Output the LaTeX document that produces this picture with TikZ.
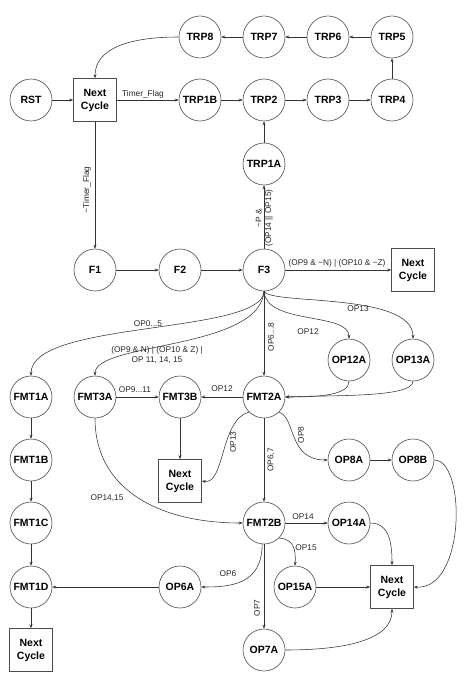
\documentclass[tikz,border=0pt]{standalone}
\usepackage{fontspec}
\setmainfont{Liberation Sans}
\usetikzlibrary{arrows.meta}
\begin{document}
\begin{tikzpicture}[x=1pt,y=-1pt,
 st/.style={circle,draw=black!70,line width=0.6pt,minimum size=42pt,inner sep=0pt,font=\fontsize{10.5}{11}\selectfont\bfseries},
 nc/.style={rectangle,draw=black!70,line width=0.6pt,minimum size=43pt,inner sep=0pt,align=center,font=\fontsize{10.5}{13}\selectfont\bfseries},
 ar/.style={draw=black!80,line width=0.55pt,-{Stealth[length=4pt,width=3pt]}},
 lb/.style={font=\fontsize{8.3}{9.5}\selectfont,text=black!85,inner sep=1pt,align=center},
]
\useasboundingbox (0,0) rectangle (474,679);
% nodes
\node[st] (TRP8) at (200,37) {TRP8};
\node[st] (TRP7) at (264,37) {TRP7};
\node[st] (TRP6) at (328,37) {TRP6};
\node[st] (TRP5) at (392,37) {TRP5};
\node[st] (RST) at (31,100) {RST};
\node[nc] (NC1) at (95,100) {Next\\Cycle};
\node[st] (TRP1B) at (200,100) {TRP1B};
\node[st] (TRP2) at (264,100) {TRP2};
\node[st] (TRP3) at (328,100) {TRP3};
\node[st] (TRP4) at (392,100) {TRP4};
\node[st] (TRP1A) at (264,164) {TRP1A};
\node[st] (F1) at (95,270) {F1};
\node[st] (F2) at (180,270) {F2};
\node[st] (F3) at (264,270) {F3};
\node[nc] (NC2) at (413,270) {Next\\Cycle};
\node[st] (OP12A) at (349,360) {OP12A};
\node[st] (OP13A) at (413,360) {OP13A};
\node[st] (FMT1A) at (31,397) {FMT1A};
\node[st] (FMT3A) at (95,397) {FMT3A};
\node[st] (FMT3B) at (180,397) {FMT3B};
\node[st] (FMT2A) at (264,397) {FMT2A};
\node[st] (FMT1B) at (31,460) {FMT1B};
\node[nc] (NC3) at (180,481) {Next\\Cycle};
\node[st] (OP8A) at (349,460) {OP8A};
\node[st] (OP8B) at (413,460) {OP8B};
\node[st] (FMT1C) at (31,523) {FMT1C};
\node[st] (FMT2B) at (264,523) {FMT2B};
\node[st] (OP14A) at (349,523) {OP14A};
\node[st] (FMT1D) at (31,587) {FMT1D};
\node[st] (OP6A) at (180,587) {OP6A};
\node[st] (OP15A) at (295,587) {OP15A};
\node[nc] (NC4) at (392,587) {Next\\Cycle};
\node[nc] (NC5) at (31,650) {Next\\Cycle};
\node[st] (OP7A) at (264,650) {OP7A};
% top loop
\draw[ar] (TRP5) -- (TRP6);
\draw[ar] (TRP6) -- (TRP7);
\draw[ar] (TRP7) -- (TRP8);
\draw[ar] (TRP8.west) .. controls (130,37) and (95,48) .. (NC1.north);
\draw[ar] (RST) -- (NC1);
\draw[ar] (NC1) -- (TRP1B);
\node[lb] (lTF) at (143,94) {Timer\_Flag};
\draw[ar] (TRP1B) -- (TRP2);
\draw[ar] (TRP2) -- (TRP3);
\draw[ar] (TRP3) -- (TRP4);
\draw[ar] (TRP4) -- (TRP5);
\draw[ar] (TRP1A) -- (TRP2);
\draw[ar] (NC1) -- (F1);
\node[lb,rotate=90] (lnTF) at (87,190) {\textasciitilde Timer\_Flag};
\draw[ar] (F1) -- (F2);
\draw[ar] (F2) -- (F3);
\draw[ar] (F3) -- (TRP1A);
\node[lb,rotate=90] (lP) at (264.5,218) {\textasciitilde P \&\\(OP14 || OP15)};
\draw[ar] (F3) -- (NC2);
\node[lb] (l910) at (337,263) {(OP9 \& \textasciitilde N) | (OP10 \& \textasciitilde Z)};
% fan from F3
\draw[ar] (F3.south) .. controls (262,335) and (31,320) .. (FMT1A.north);
\node[lb] (l05) at (148,324) {OP0...5};
\draw[ar] (F3.south) .. controls (260,350) and (95,342) .. (FMT3A.north);
\node[lb] (l911) at (157,355) {(OP9 \& N) | (OP10 \& Z) |\\OP 11, 14, 15};
\draw[ar] (F3) -- (FMT2A);
\node[lb,rotate=90] (l68) at (271,337) {OP6...8};
\draw[ar] (F3.south) .. controls (266,325) and (349,312) .. (OP12A.north);
\node[lb] (l12) at (308,332) {OP12};
\draw[ar] (F3.south) .. controls (270,305) and (413,292) .. (OP13A.north);
\node[lb] (l13) at (358,309) {OP13};
\draw[ar] (OP12A.south) .. controls (349,395) and (320,397) .. (FMT2A.east);
\draw[ar] (OP13A.south) .. controls (413,398) and (330,395) .. (FMT2A.east);
% FMT row
\draw[ar] (FMT2A) -- (FMT3B);
\node[lb] (l12b) at (222,389) {OP12};
\draw[ar] (FMT3A) -- (FMT3B);
\node[lb] (l911b) at (135,390) {OP9...11};
\draw[ar] (FMT3B) -- (NC3);
\draw[ar] (FMT2A.225) .. controls (220,420) and (225,485) .. (NC3.east);
\node[lb,rotate=90] (l13b) at (233,442) {OP13};
\draw[ar] (FMT2A) -- (FMT2B);
\node[lb,rotate=90] (l67) at (271,460) {OP6,7};
\draw[ar] (FMT2A.-45) .. controls (296,418) and (288,460) .. (OP8A.west);
\node[lb,rotate=90] (l8) at (301,435) {OP8};
\draw[ar] (OP8A) -- (OP8B);
\draw[ar] (OP8B.east) .. controls (466,460) and (466,590) .. (NC4.east);
\draw[ar] (FMT3A.south) .. controls (95,490) and (160,523) .. (FMT2B.west);
\node[lb] (l1415) at (107,498) {OP14,15};
% left column
\draw[ar] (FMT1A) -- (FMT1B);
\draw[ar] (FMT1B) -- (FMT1C);
\draw[ar] (FMT1C) -- (FMT1D);
\draw[ar] (FMT1D) -- (NC5);
% FMT2B branches
\draw[ar] (FMT2B) -- (OP14A);
\node[lb] (l14) at (303,517) {OP14};
\draw[ar] (OP14A.east) .. controls (390,523) and (392,545) .. (NC4.north);
\draw[ar] (FMT2B.-45) .. controls (294,539) and (296,550) .. (OP15A.north);
\node[lb] (l15) at (306,548) {OP15};
\draw[ar] (FMT2B.265) .. controls (262,585) and (230,587) .. (OP6A.east);
\node[lb] (l6) at (228,574) {OP6};
\draw[ar] (OP6A) -- (FMT1D);
\draw[ar] (FMT2B) -- (OP7A);
\node[lb,rotate=90] (l7) at (257,608) {OP7};
\draw[ar] (OP15A) -- (NC4);
\draw[ar] (OP7A.east) .. controls (345,650) and (392,640) .. (NC4.south);
\end{tikzpicture}
\end{document}
